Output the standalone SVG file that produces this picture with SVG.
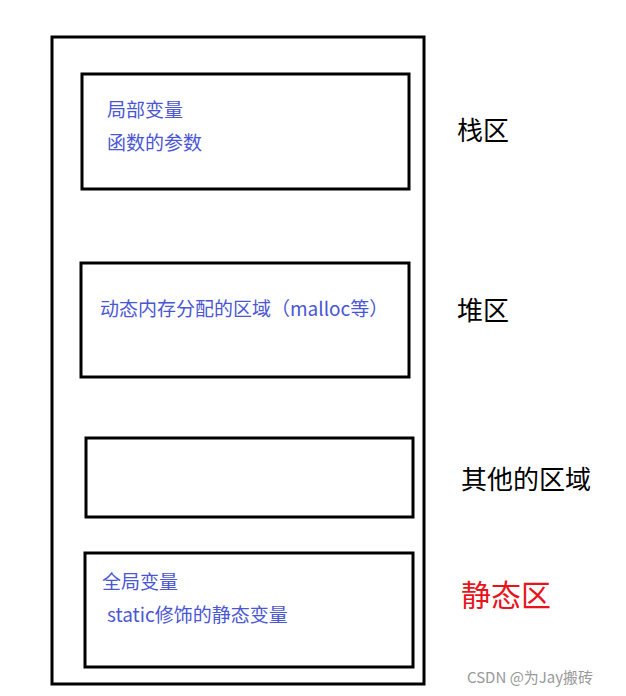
<svg xmlns="http://www.w3.org/2000/svg" width="626" height="696" viewBox="0 0 626 696">
<style>
.b{fill:none;stroke:#000;stroke-width:3}
.t{font-family:"Noto Sans CJK SC",sans-serif;font-size:19px;fill:#4a56d4}
.l{font-family:"Noto Sans CJK SC",sans-serif;font-size:26px;fill:#000}
</style>
<rect width="626" height="696" fill="#fff"/>
<g id="outer"><rect class="b" x="52" y="37" width="372" height="647"/></g>
<g id="stack"><rect class="b" x="82" y="74" width="327" height="115"/>
<text class="t" x="107" y="117">局部变量</text><text class="t" x="107" y="150">函数的参数</text></g>
<g id="heap"><rect class="b" x="81" y="263" width="328" height="114"/>
<text class="t" x="100" y="316">动态内存分配的区域（malloc等）</text></g>
<g id="other"><rect class="b" x="86" y="438" width="327" height="79"/></g>
<g id="static"><rect class="b" x="85" y="553" width="328" height="114"/>
<text class="t" x="102" y="589">全局变量</text><text class="t" x="107" y="622">static修饰的静态变量</text></g>
<g id="labels">
<text class="l" x="457" y="140">栈区</text>
<text class="l" x="457" y="320">堆区</text>
<text class="l" x="461" y="489">其他的区域</text>
<text class="l" x="461" y="606" style="fill:#e8141c;font-size:30px">静态区</text>
<text x="467" y="683" style="font-family:'Noto Sans CJK SC',sans-serif;font-size:15px;fill:#999">CSDN @为Jay搬砖</text>
</g>
<g id="connectors"/>
</svg>
